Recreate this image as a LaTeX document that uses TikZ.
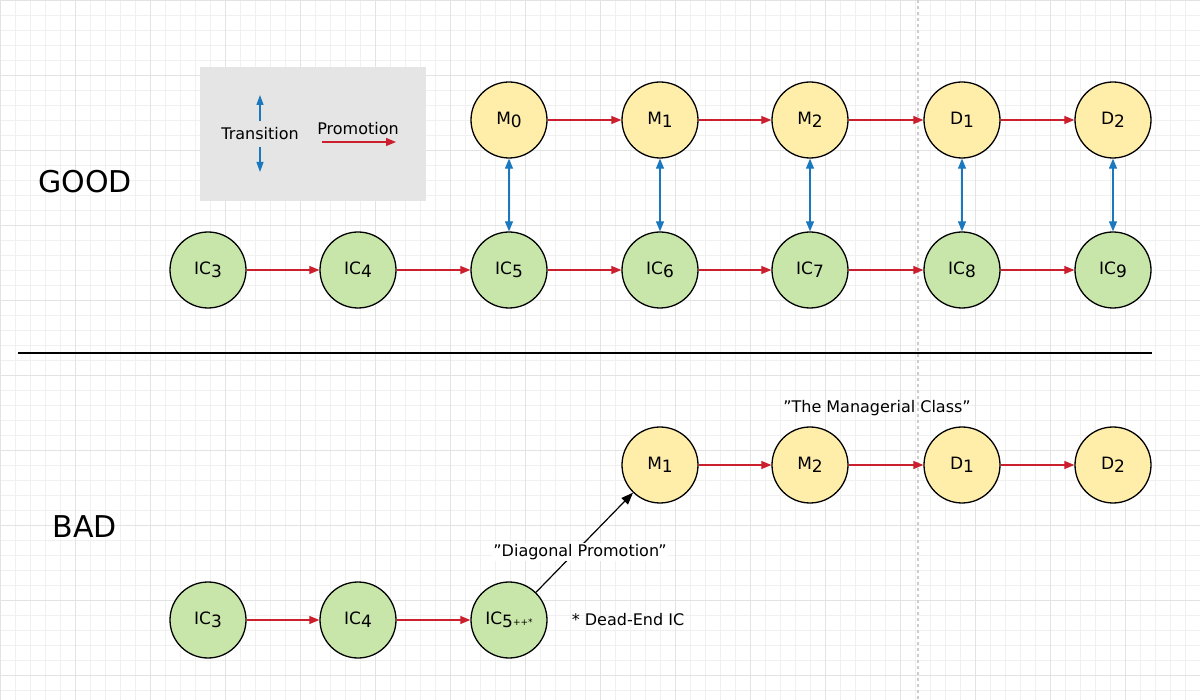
\documentclass[tikz,border=0pt]{standalone}
\usepackage{fontspec}
\setmainfont{DejaVu Sans}[Ligatures=ResetAll]
\usetikzlibrary{arrows.meta}
\definecolor{icGreen}{HTML}{C8E6AA}
\definecolor{mgrYellow}{HTML}{FFEDAA}
\definecolor{promoRed}{HTML}{CC1F2E}
\definecolor{transBlue}{HTML}{1A78BE}
\tikzset{
  ic/.style={circle, draw=black, line width=1.3pt, fill=icGreen, minimum size=76pt, inner sep=0pt, font=\fontsize{17}{17}\selectfont},
  mgr/.style={circle, draw=black, line width=1.3pt, fill=mgrYellow, minimum size=76pt, inner sep=0pt, font=\fontsize{17}{17}\selectfont},
  promo/.style={-{Triangle[length=10pt,width=8pt]}, promoRed, line width=1.2pt},
  trans/.style={{Triangle[length=10pt,width=8pt]}-{Triangle[length=10pt,width=8pt]}, transBlue, line width=1.2pt},
  note/.style={font=\fontsize{16}{16}\selectfont}
}
\newcommand{\sub}[1]{\raisebox{-3pt}{#1}}
\begin{document}
\begin{tikzpicture}[x=1pt, y=-1pt]
  \useasboundingbox (0,0) rectangle (1200,700);
  % grid
  \draw[step=15pt, gray!12, very thin] (0,0) grid (1200,700);
  \draw[step=75pt, gray!22, very thin] (0,0) grid (1200,700);
  \draw[gray!40, dashed, line width=1.2pt] (918,0) -- (918,700);
  \draw[black, line width=1.2pt] (18,353) -- (1152,353);

  % legend
  \fill[gray!20] (200,67) rectangle (426,201);
  \node[note] (legT) at (260,134) {Transition};
  \coordinate (legTa) at (260,95);
  \coordinate (legTb) at (260,172);
  \draw[-{Triangle[length=10pt,width=7pt]}, transBlue, line width=1.2pt] (legT.north) ++(0,-3) -- (legTa);
  \draw[-{Triangle[length=10pt,width=7pt]}, transBlue, line width=1.2pt] (legT.south) ++(0,3) -- (legTb);
  \node[note] (legP) at (358,129) {Promotion};
  \coordinate (legPa) at (322,142);
  \coordinate (legPb) at (396,142);
  \draw[promo] (legPa) -- (legPb);

  \node[font=\fontsize{30}{30}\selectfont] (good) at (85,182) {GOOD};
  \node[font=\fontsize{30}{30}\selectfont] (bad) at (85,527) {BAD};

  % --- good path ---
  \foreach \n/\x in {3/208,4/358,5/509,6/660,7/810,8/962,9/1113}
    \node[ic] (g\n) at (\x,270) {IC\sub{\n}};
  \node[mgr] (gm0) at (509,120) {M\sub{0}};
  \node[mgr] (gm1) at (660,120) {M\sub{1}};
  \node[mgr] (gm2) at (810,120) {M\sub{2}};
  \node[mgr] (gd1) at (962,120) {D\sub{1}};
  \node[mgr] (gd2) at (1113,120) {D\sub{2}};
  \foreach \a/\b in {g3/g4,g4/g5,g5/g6,g6/g7,g7/g8,g8/g9,gm0/gm1,gm1/gm2,gm2/gd1,gd1/gd2}
    \draw[promo] (\a) -- (\b);
  \foreach \a/\b in {gm0/g5,gm1/g6,gm2/g7,gd1/g8,gd2/g9}
    \draw[trans] (\a) -- (\b);

  % --- bad path ---
  \node[ic] (b3) at (208,620) {IC\sub{3}};
  \node[ic] (b4) at (358,620) {IC\sub{4}};
  \node[ic] (b5) at (509,620) {IC\sub{5}\raisebox{-1pt}{\small++*}};
  \node[mgr] (bm1) at (660,465) {M\sub{1}};
  \node[mgr] (bm2) at (810,465) {M\sub{2}};
  \node[mgr] (bd1) at (962,465) {D\sub{1}};
  \node[mgr] (bd2) at (1113,465) {D\sub{2}};
  \foreach \a/\b in {b3/b4,b4/b5,bm1/bm2,bm2/bd1,bd1/bd2}
    \draw[promo] (\a) -- (\b);
  \draw[-{Triangle[length=12pt,width=9pt]}, line width=1.2pt] (b5) -- (bm1);
  \node[note, fill=white, inner sep=1pt] (diag) at (580,552) {"Diagonal Promotion"};
  \node[note] (mclass) at (877,408) {"The Managerial Class"};
  \node[note] (dead) at (628,620) {* Dead-End IC};
\end{tikzpicture}
\end{document}
